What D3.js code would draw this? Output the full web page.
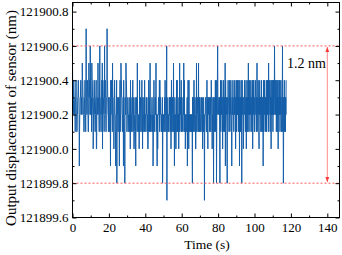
<!DOCTYPE html>
<html>
<head>
<meta charset="utf-8">
<script src="https://cdn.jsdelivr.net/npm/d3@7"></script>
<style>
    body { margin: 0; background: #fff; }
    svg { display: block; }
    text { font-family: "Times New Roman", "Liberation Serif", serif; fill: #000; }
</style>
</head>
<body>
<div id="chart"></div>
<script>
// Sensor output, sampled every 0.125 s. Each char is a hex level:
// value = baseLevel + level * 0.1 nm
const timeStep = 0.125;
const baseLevel = 121899.7;
const seg00 = "8665577665" + "5546677554" + "4556677665" + "2455667755" + "6658776655" + "4456675546" + "a665577654" + "4586677597";
const seg10 = "5566487765" + "5346677554" + "4566733566" + "5586655447" + "9665544667" + "5837766554" + "5966755446" + "66a7765546";
const seg20 = "5544665275" + "6677548665" + "5536675544" + "2556716655" + "4466552667" + "4558776654" + "4556275544" + "1665587764";
const seg30 = "4556655445" + "5465374655" + "4455674655" + "3345565425" + "6655485544" + "4553574456" + "5546675536" + "4455664755";
const seg40 = "5544655654" + "5334475664" + "5845544556" + "6545235574" + "4556655845" + "5425335566" + "5574756655" + "4455461455";
const seg50 = "5445564755" + "5465906554" + "4554465655" + "4653574456" + "5445845524" + "6545335574" + "7455445364" + "5845565574";
const seg60 = "6544556658" + "4574453455" + "5445625574" + "5374554455" + "4554554165" + "6455745566" + "5335485566" + "5445845564";
const seg70 = "6544556654" + "6535564455" + "0455665544" + "5746536655" + "6554656645" + "7665354665" + "1665546574" + "6571465796";
const seg80 = "6655566416" + "5746657665" + "3654765546" + "5827566554" + "1655766545" + "5746657654" + "2465576554" + "6557665365";
const seg90 = "7465575574" + "6557265546" + "5746157566" + "5346657665" + "4667365546" + "5748556657" + "4655766546" + "5736657654";
const seg100 = "4657765546" + "5846657654" + "3657566546" + "5746654625" + "7456756654" + "6574565765" + "7485576654" + "6573657765";
const seg110 = "7465756696" + "5765574657" + "4657365576" + "5746657654" + "4659465146" + "5746654657";

const xTicks = [0, 20, 40, 60, 80, 100, 120, 140];
const xMinorTicks = [10, 30, 50, 70, 90, 110, 130];
const yTicks = [121899.6, 121899.8, 121900.0, 121900.2, 121900.4, 121900.6, 121900.8];
const yMinorTicks = [121899.7, 121899.9, 121900.1, 121900.3, 121900.5, 121900.7];
const bandLines = [121900.6, 121899.8];
const bandLabel = "1.2 nm";
const arrowTime = 140;

const levels = [seg00, seg10, seg20, seg30, seg40, seg50, seg60, seg70, seg80, seg90, seg100, seg110].join("");
const data = levels.split("").map((c, i) => ({
    t: i * timeStep,
    v: baseLevel + parseInt(c, 16) / 10
}));

const width = 342, height = 255;
const margin = { top: 2.5, right: 2.5, bottom: 37.5, left: 72.5 };

const svg = d3.select("#chart").append("svg")
    .attr("width", width)
    .attr("height", height);

const x = d3.scaleLinear().domain([0, 146.7]).range([margin.left, width - margin.right]);
const y = d3.scaleLinear().domain([121899.6, 121900.853]).range([height - margin.bottom, margin.top]);

const defs = svg.append("defs");
defs.append("clipPath").attr("id", "plot-clip")
    .append("rect")
    .attr("x", margin.left).attr("y", margin.top)
    .attr("width", width - margin.left - margin.right)
    .attr("height", height - margin.top - margin.bottom);

["up", "down"].forEach(dir => {
    defs.append("marker")
        .attr("id", "arrow-" + dir)
        .attr("viewBox", "0 0 6 8")
        .attr("refX", 3).attr("refY", dir === "up" ? 0 : 8)
        .attr("markerWidth", 4).attr("markerHeight", 5.5)
        .attr("markerUnits", "userSpaceOnUse")
        .append("path")
        .attr("d", dir === "up" ? "M0,8 L3,0 L6,8 Z" : "M0,0 L3,8 L6,0 Z")
        .attr("fill", "#ff3b3b");
});

// data line
svg.append("path")
    .datum(data)
    .attr("clip-path", "url(#plot-clip)")
    .attr("fill", "none")
    .attr("stroke", "#155ea9")
    .attr("stroke-width", 1)
    .attr("d", d3.line().x(d => x(d.t)).y(d => y(d.v)));

// dashed band limits
svg.selectAll(".band")
    .data(bandLines)
    .enter().append("line")
    .attr("class", "band")
    .attr("x1", x(0)).attr("x2", width - margin.right)
    .attr("y1", d => y(d)).attr("y2", d => y(d))
    .attr("stroke", "#ff5a5a")
    .attr("stroke-width", 1)
    .attr("stroke-dasharray", "2,2");

// span arrow
svg.append("line")
    .attr("x1", x(arrowTime)).attr("x2", x(arrowTime))
    .attr("y1", y(bandLines[0]) + 1).attr("y2", y(bandLines[1]) - 1)
    .attr("stroke", "#ff8a8a")
    .attr("stroke-width", 1)
    .attr("marker-start", "url(#arrow-up)")
    .attr("marker-end", "url(#arrow-down)");

svg.append("text")
    .attr("x", 287).attr("y", 68)
    .attr("font-size", 14)
    .text(bandLabel);

// axes, ticks pointing inward
const plotBottom = height - margin.bottom;
const plotRight = width - margin.right;

function addAxis(axis, transform, minor) {
    const g = svg.append("g").attr("transform", transform).call(axis);
    g.select(".domain").remove();
    g.attr("font-family", null);
    g.selectAll("text").attr("font-size", 13);
    if (minor) g.selectAll("text").remove();
    return g;
}

addAxis(d3.axisBottom(x).tickValues(xTicks).tickSize(-4).tickPadding(5), `translate(0,${plotBottom})`);
addAxis(d3.axisBottom(x).tickValues(xMinorTicks).tickSize(-2), `translate(0,${plotBottom})`, true);
addAxis(d3.axisTop(x).tickValues(xTicks).tickSize(-4), `translate(0,${margin.top})`, true);
addAxis(d3.axisTop(x).tickValues(xMinorTicks).tickSize(-2), `translate(0,${margin.top})`, true);
addAxis(d3.axisLeft(y).tickValues(yTicks).tickSize(-4).tickPadding(4).tickFormat(d3.format(".1f")), `translate(${margin.left},0)`);
addAxis(d3.axisLeft(y).tickValues(yMinorTicks).tickSize(-2), `translate(${margin.left},0)`, true);
addAxis(d3.axisRight(y).tickValues(yTicks).tickSize(-4), `translate(${plotRight},0)`, true);
addAxis(d3.axisRight(y).tickValues(yMinorTicks).tickSize(-2), `translate(${plotRight},0)`, true);

svg.append("rect")
    .attr("x", margin.left).attr("y", margin.top)
    .attr("width", plotRight - margin.left)
    .attr("height", plotBottom - margin.top)
    .attr("fill", "none")
    .attr("stroke", "#000")
    .attr("stroke-width", 1);

svg.append("text")
    .attr("x", 207).attr("y", 249)
    .attr("text-anchor", "middle")
    .attr("font-size", 13.5)
    .text("Time (s)");

svg.append("text")
    .attr("transform", "translate(16,118) rotate(-90)")
    .attr("text-anchor", "middle")
    .attr("font-size", 15)
    .text("Output displacement of sensor (nm)");
</script>
</body>
</html>
